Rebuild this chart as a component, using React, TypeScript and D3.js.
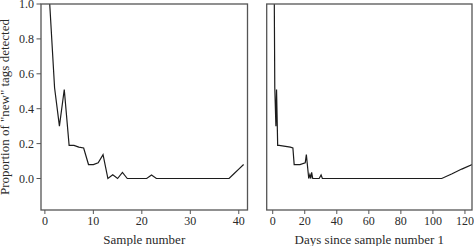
import { scaleLinear, line } from 'd3'

const sampleNumber = [
  1, 2, 3, 4, 5, 6, 7, 8, 9, 10, 11, 12, 13, 14, 15, 16, 17, 18, 19, 20, 21,
  22, 23, 24, 25, 26, 27, 28, 29, 30, 31, 32, 33, 34, 35, 36, 37, 38, 39, 40, 41,
]

const proportionNew = [
  1.0, 0.52, 0.3, 0.51, 0.19, 0.19, 0.18, 0.175, 0.08, 0.08, 0.09, 0.137, 0,
  0.022, 0, 0.035, 0, 0, 0, 0, 0, 0.02, 0, 0, 0, 0, 0, 0, 0, 0, 0, 0, 0, 0, 0,
  0, 0, 0, 0.027, 0.054, 0.08,
]

const daysSinceFirst = [
  1, 1.3, 2, 2.4, 3.1, 4, 11, 12.6, 13.4, 17, 20.3, 21, 22.5, 23.2, 23.8, 24.3,
  25, 26, 27, 28, 29, 30.2, 31, 33, 36, 40, 45, 50, 56, 62, 68, 74, 80, 86, 92,
  98, 102, 105.5, 112, 118, 124.5,
]

const yTicks = [0, 0.2, 0.4, 0.6, 0.8, 1.0]
const sampleTicks = [0, 10, 20, 30, 40]
const dayTicks = [0, 20, 40, 60, 80, 100, 120]

const FONT = '"Liberation Serif", "Times New Roman", serif'
const AXIS = '#555'
const TEXT = '#2a2a2a'
const INK = '#1c1c1c'

const top = 4
const bottom = 210

export default function App() {
  const y = scaleLinear().domain([0, 1]).range([178.5, 4])
  const xSample = scaleLinear().domain([-0.8, 41.8]).range([41, 247.5])
  const xDays = scaleLinear().domain([-3.75, 124.4]).range([266.7, 472])

  const leftPath =
    line<number>()
      .x((_, i) => xSample(sampleNumber[i]))
      .y((v) => y(v))(proportionNew) ?? ''
  const rightPath =
    line<number>()
      .x((_, i) => xDays(daysSinceFirst[i]))
      .y((v) => y(v))(proportionNew) ?? ''

  const panel = (
    x: typeof xSample,
    ticks: number[],
    path: string,
    id: string,
    title: string,
  ) => {
    const [x0, x1] = x.range()
    return (
      <g>
        <defs>
          <clipPath id={id}>
            <rect x={x0} y={top} width={x1 - x0} height={bottom - top} />
          </clipPath>
        </defs>
        <path d={path} fill="none" stroke={INK} strokeWidth={1.2} clipPath={`url(#${id})`} />
        <rect
          x={x0}
          y={top}
          width={x1 - x0}
          height={bottom - top}
          fill="none"
          stroke={AXIS}
          strokeWidth={1.3}
        />
        {ticks.map((t) => (
          <g key={t}>
            <line x1={x(t)} x2={x(t)} y1={bottom} y2={bottom + 4} stroke={AXIS} strokeWidth={1} />
            <text x={x(t)} y={225} textAnchor="middle" fontSize={12} fill={TEXT}>
              {t}
            </text>
          </g>
        ))}
        <text x={(x0 + x1) / 2} y={243.5} textAnchor="middle" fontSize={13} fill={TEXT}>
          {title}
        </text>
      </g>
    )
  }

  return (
    <svg
      width={474}
      height={246}
      style={{ position: 'absolute', left: 0, top: 0, background: '#fff' }}
      fontFamily={FONT}
    >
      {panel(xSample, sampleTicks, leftPath, 'clip-left', 'Sample number')}
      {panel(xDays, dayTicks, rightPath, 'clip-right', 'Days since sample number 1')}

      {yTicks.map((t) => (
        <g key={t}>
          <line x1={36.5} x2={41} y1={y(t)} y2={y(t)} stroke={AXIS} strokeWidth={1} />
          <text x={34} y={y(t) + 4} textAnchor="end" fontSize={12} fill={TEXT}>
            {t.toFixed(1)}
          </text>
        </g>
      ))}
      <text
        transform={`translate(9, ${(top + bottom) / 2}) rotate(-90)`}
        textAnchor="middle"
        fontSize={13}
        fill={TEXT}
      >
        Proportion of "new" tags detected
      </text>
    </svg>
  )
}
